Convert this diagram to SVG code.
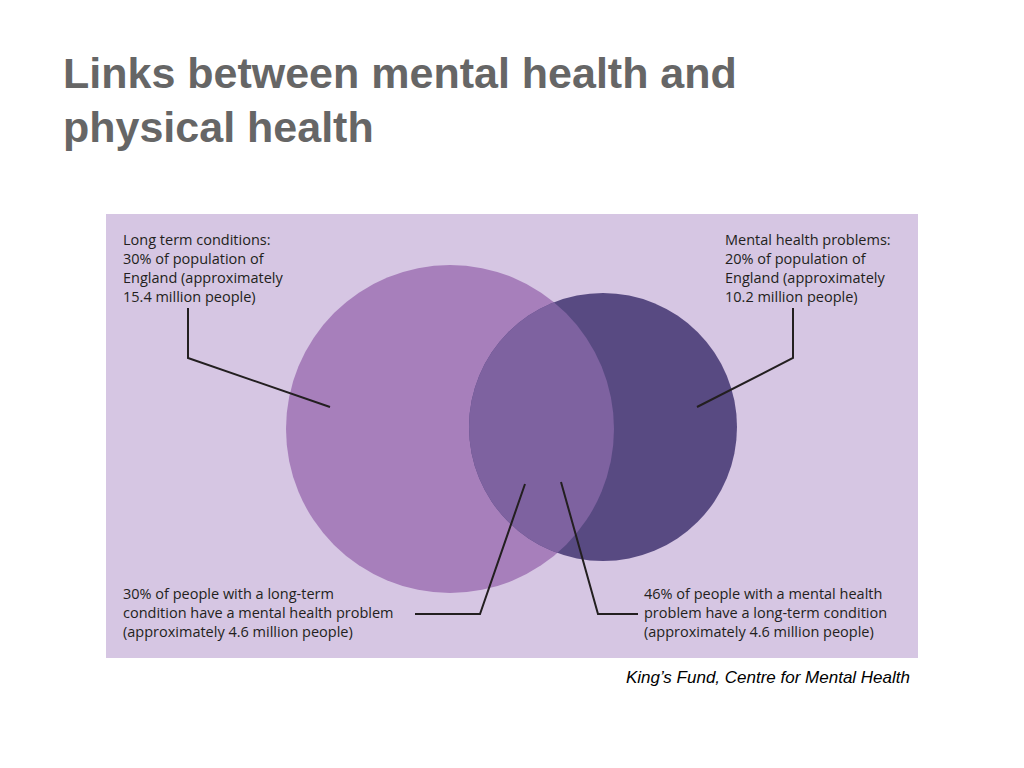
<svg xmlns="http://www.w3.org/2000/svg" width="1024" height="768" viewBox="0 0 1024 768">
<style>
.t{font-family:"Open Sans","Liberation Sans",sans-serif;font-size:14.5px;fill:#231f20}
.c{fill:none;stroke:#231f20;stroke-width:2}
</style>
<defs><clipPath id="cl"><circle cx="450" cy="429" r="164"/></clipPath></defs>
<rect width="1024" height="768" fill="#fff"/>
<text font-family="Liberation Sans,Arial,sans-serif" font-weight="bold" font-size="43" fill="#666" x="63" y="88">Links between mental health and</text>
<text font-family="Liberation Sans,Arial,sans-serif" font-weight="bold" font-size="43" fill="#666" x="63" y="142">physical health</text>
<rect x="106" y="214" width="812" height="444" fill="#d6c6e3"/>
<g id="ltc"><circle cx="450" cy="429" r="164" fill="#a77fbb"/></g>
<g id="mhp"><circle cx="603" cy="427" r="134" fill="#584a82"/></g>
<g id="overlap"><circle cx="603" cy="427" r="134" fill="#7e62a0" clip-path="url(#cl)"/></g>
<g id="connectors">
<polyline class="c" points="188,308 188,358 330,407"/>
<polyline class="c" points="793,308 793,358 697,407"/>
<polyline class="c" points="415,614 480,614 525,484"/>
<polyline class="c" points="561,482 598,614 638,614"/>
</g>
<g id="label-ltc"><text class="t" x="123" y="245">Long term conditions:</text><text class="t" x="123" y="264">30% of population of</text><text class="t" x="123" y="283">England (approximately</text><text class="t" x="123" y="302">15.4 million people)</text></g>
<g id="label-mhp"><text class="t" x="725" y="245">Mental health problems:</text><text class="t" x="725" y="264">20% of population of</text><text class="t" x="725" y="283">England (approximately</text><text class="t" x="725" y="302">10.2 million people)</text></g>
<g id="label-bl"><text class="t" x="123" y="599">30% of people with a long-term</text><text class="t" x="123" y="618">condition have a mental health problem</text><text class="t" x="123" y="637">(approximately 4.6 million people)</text></g>
<g id="label-br"><text class="t" x="644" y="599">46% of people with a mental health</text><text class="t" x="644" y="618">problem have a long-term condition</text><text class="t" x="644" y="637">(approximately 4.6 million people)</text></g>
<text font-family="Liberation Sans,Arial,sans-serif" font-style="italic" font-size="17" fill="#000" x="910" y="683" text-anchor="end">King’s Fund, Centre for Mental Health</text>
</svg>
